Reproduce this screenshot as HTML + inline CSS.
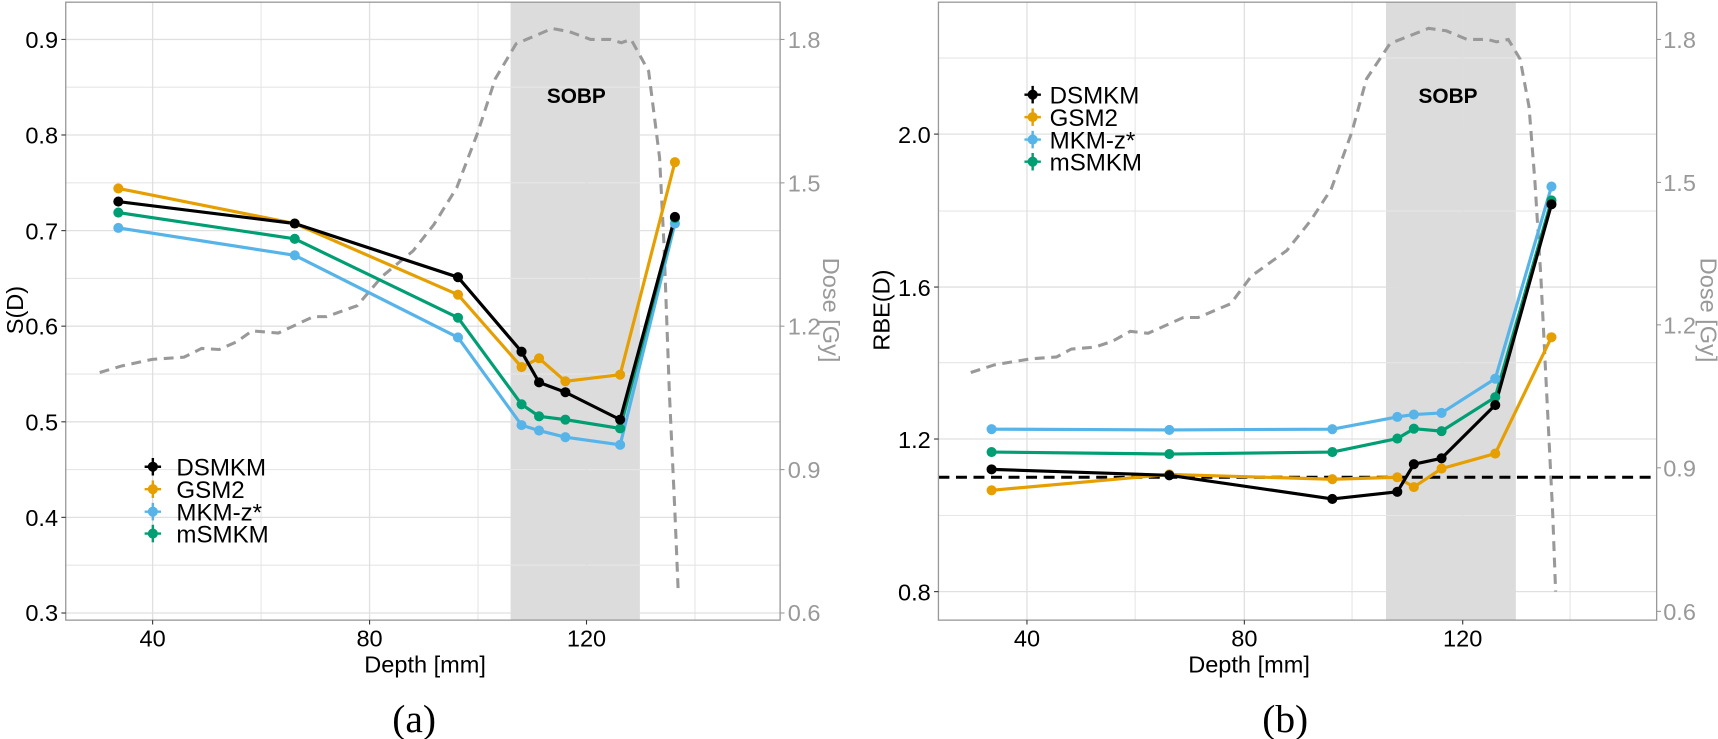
<!DOCTYPE html>
<html><head><meta charset="utf-8"><style>
html,body{margin:0;padding:0;background:#fff;}
svg{display:block;}
text{font-family:"Liberation Sans",sans-serif;}
</style></head><body>
<svg width="1718" height="739" viewBox="0 0 1568 674.5" preserveAspectRatio="none" xmlns="http://www.w3.org/2000/svg">
<rect width="1568" height="674.5" fill="#fff"/>
<!-- ========== PANEL A ========== -->
<g>
<rect x="466" y="2" width="118" height="564" fill="#dcdcdc"/>
<g stroke="#e6e6e6" stroke-width="1" fill="none">
<line x1="60" x2="712" y1="79.6" y2="79.6"/><line x1="60" x2="712" y1="166.9" y2="166.9"/>
<line x1="60" x2="712" y1="254.1" y2="254.1"/><line x1="60" x2="712" y1="341.4" y2="341.4"/>
<line x1="60" x2="712" y1="428.6" y2="428.6"/><line x1="60" x2="712" y1="515.9" y2="515.9"/>
<line x1="238.3" x2="238.3" y1="2" y2="566"/><line x1="436.3" x2="436.3" y1="2" y2="566"/><line x1="634.3" x2="634.3" y1="2" y2="566"/>
</g>
<g stroke="#dddddd" stroke-width="1.2" fill="none" opacity="0.9">
<line x1="60" x2="712" y1="36" y2="36"/><line x1="60" x2="712" y1="123.2" y2="123.2"/>
<line x1="60" x2="712" y1="210.5" y2="210.5"/><line x1="60" x2="712" y1="297.7" y2="297.7"/>
<line x1="60" x2="712" y1="385" y2="385"/><line x1="60" x2="712" y1="472.2" y2="472.2"/>
<line x1="60" x2="712" y1="559.5" y2="559.5"/>
<line x1="139.3" x2="139.3" y1="2" y2="566"/><line x1="337.3" x2="337.3" y1="2" y2="566"/><line x1="535.3" x2="535.3" y1="2" y2="566"/>
</g>
<text x="526" y="94" font-size="19" font-weight="bold" text-anchor="middle">SOBP</text>
<polyline fill="none" stroke="#999" stroke-width="2.8" stroke-dasharray="9,6" points="91,340 111,334 139,328 168,326 184,318 200,319 216,312 230,302 254,304 269,297 286,289 298,289 326,279 349,252 377,229 396,205 417,171 436,121 452,72 471,40 504,26 520,29 539,36 557,36 567,39 576,36 592,65 602,144 606,223 611,360 616,468 619,540"/>
<g fill="none" stroke-width="2.9" stroke-linejoin="round">
<polyline stroke="#56B4E9" points="108,208 269,233 418,308 476,388 492,393 516,399 566,406 616,204"/>
<polyline stroke="#009E73" points="108,194 269,218 418,290 476,369 492,380 516,383 566,391 616,199"/>
<polyline stroke="#E69F00" points="108,172 269,204 418,269 476,335 492,327 516,348 566,342 616,148"/>
<polyline stroke="#000" points="108,184 269,204 418,253 476,321 492,349 516,358 566,383 616,198"/>
</g>
<g fill="#56B4E9"><circle cx="108" cy="208" r="4.6"/><circle cx="269" cy="233" r="4.6"/><circle cx="418" cy="308" r="4.6"/><circle cx="476" cy="388" r="4.6"/><circle cx="492" cy="393" r="4.6"/><circle cx="516" cy="399" r="4.6"/><circle cx="566" cy="406" r="4.6"/><circle cx="616" cy="204" r="4.6"/></g>
<g fill="#009E73"><circle cx="108" cy="194" r="4.6"/><circle cx="269" cy="218" r="4.6"/><circle cx="418" cy="290" r="4.6"/><circle cx="476" cy="369" r="4.6"/><circle cx="492" cy="380" r="4.6"/><circle cx="516" cy="383" r="4.6"/><circle cx="566" cy="391" r="4.6"/><circle cx="616" cy="199" r="4.6"/></g>
<g fill="#E69F00"><circle cx="108" cy="172" r="4.6"/><circle cx="269" cy="204" r="4.6"/><circle cx="418" cy="269" r="4.6"/><circle cx="476" cy="335" r="4.6"/><circle cx="492" cy="327" r="4.6"/><circle cx="516" cy="348" r="4.6"/><circle cx="566" cy="342" r="4.6"/><circle cx="616" cy="148" r="4.6"/></g>
<g fill="#000"><circle cx="108" cy="184" r="4.6"/><circle cx="269" cy="204" r="4.6"/><circle cx="418" cy="253" r="4.6"/><circle cx="476" cy="321" r="4.6"/><circle cx="492" cy="349" r="4.6"/><circle cx="516" cy="358" r="4.6"/><circle cx="566" cy="383" r="4.6"/><circle cx="616" cy="198" r="4.6"/></g>
<rect x="60" y="2" width="652" height="564" fill="none" stroke="#999" stroke-width="1.2"/>
<!-- legend -->
<g stroke-width="2.2">
<line x1="132" x2="147" y1="426" y2="426" stroke="#000"/><line x1="139.5" x2="139.5" y1="418" y2="434" stroke="#000"/><circle cx="139.5" cy="426" r="4.6" fill="#000"/>
<line x1="132" x2="147" y1="446.5" y2="446.5" stroke="#E69F00"/><line x1="139.5" x2="139.5" y1="438.5" y2="454.5" stroke="#E69F00"/><circle cx="139.5" cy="446.5" r="4.6" fill="#E69F00"/>
<line x1="132" x2="147" y1="467" y2="467" stroke="#56B4E9"/><line x1="139.5" x2="139.5" y1="459" y2="475" stroke="#56B4E9"/><circle cx="139.5" cy="467" r="4.6" fill="#56B4E9"/>
<line x1="132" x2="147" y1="487" y2="487" stroke="#009E73"/><line x1="139.5" x2="139.5" y1="479" y2="495" stroke="#009E73"/><circle cx="139.5" cy="487" r="4.6" fill="#009E73"/>
</g>
<g font-size="22"><text x="161" y="434">DSMKM</text><text x="161" y="454.5">GSM2</text><text x="161" y="475">MKM-z*</text><text x="161" y="495">mSMKM</text></g>
<!-- axes ticks -->
<g stroke="#333" stroke-width="1"><line x1="56" x2="60" y1="36" y2="36"/><line x1="56" x2="60" y1="123.2" y2="123.2"/><line x1="56" x2="60" y1="210.5" y2="210.5"/><line x1="56" x2="60" y1="297.7" y2="297.7"/><line x1="56" x2="60" y1="385" y2="385"/><line x1="56" x2="60" y1="472.2" y2="472.2"/><line x1="56" x2="60" y1="559.5" y2="559.5"/>
<line x1="139.3" x2="139.3" y1="566" y2="570"/><line x1="337.3" x2="337.3" y1="566" y2="570"/><line x1="535.3" x2="535.3" y1="566" y2="570"/></g>
<g font-size="21.5" text-anchor="end"><text x="53" y="44">0.9</text><text x="53" y="131">0.8</text><text x="53" y="218.5">0.7</text><text x="53" y="305.5">0.6</text><text x="53" y="393">0.5</text><text x="53" y="480">0.4</text><text x="53" y="567">0.3</text></g>
<g font-size="21.5" text-anchor="middle"><text x="139.3" y="590">40</text><text x="337.3" y="590">80</text><text x="535.3" y="590">120</text></g>
<g stroke="#999" stroke-width="1"><line x1="712" x2="716" y1="36" y2="36"/><line x1="712" x2="716" y1="166.9" y2="166.9"/><line x1="712" x2="716" y1="297.7" y2="297.7"/><line x1="712" x2="716" y1="428.6" y2="428.6"/><line x1="712" x2="716" y1="559.5" y2="559.5"/></g>
<g font-size="21.5" fill="#999"><text x="719" y="44">1.8</text><text x="719" y="175">1.5</text><text x="719" y="305.5">1.2</text><text x="719" y="436.5">0.9</text><text x="719" y="567">0.6</text></g>
<text x="388" y="614" font-size="21.5" text-anchor="middle">Depth [mm]</text>
<text transform="translate(21,283) rotate(-90)" font-size="21.5" text-anchor="middle">S(D)</text>
<text transform="translate(751,283) rotate(90)" font-size="21.5" fill="#999" text-anchor="middle">Dose [Gy]</text>
<text x="378" y="668" font-size="36" text-anchor="middle" style="font-family:'Liberation Serif',serif">(a)</text>
</g>
<!-- ========== PANEL B ========== -->
<g>
<rect x="1265" y="2" width="118.5" height="564" fill="#dcdcdc"/>
<g stroke="#e6e6e6" stroke-width="1" fill="none">
<line x1="856.5" x2="1512" y1="53" y2="53"/><line x1="856.5" x2="1512" y1="192.6" y2="192.6"/>
<line x1="856.5" x2="1512" y1="331" y2="331"/><line x1="856.5" x2="1512" y1="470.5" y2="470.5"/>
<line x1="1036" x2="1036" y1="2" y2="566"/><line x1="1234" x2="1234" y1="2" y2="566"/><line x1="1433" x2="1433" y1="2" y2="566"/>
</g>
<g stroke="#dddddd" stroke-width="1.2" fill="none" opacity="0.9">
<line x1="856.5" x2="1512" y1="122.4" y2="122.4"/><line x1="856.5" x2="1512" y1="262" y2="262"/>
<line x1="856.5" x2="1512" y1="400.7" y2="400.7"/><line x1="856.5" x2="1512" y1="540" y2="540"/>
<line x1="937.3" x2="937.3" y1="2" y2="566"/><line x1="1135.7" x2="1135.7" y1="2" y2="566"/><line x1="1335" x2="1335" y1="2" y2="566"/>
</g>
<text x="1321.6" y="94" font-size="19" font-weight="bold" text-anchor="middle">SOBP</text>
<polyline fill="none" stroke="#999" stroke-width="2.8" stroke-dasharray="9,6" points="886,340 907.7,333 940,327.6 964.3,325.8 977.7,318.6 999.3,316.8 1015.5,311.4 1031.6,302.4 1047.8,304.2 1064,297 1080.1,289.8 1093.6,289.8 1123.3,277.2 1142.1,252 1174.5,228.6 1196,201.6 1214.9,172.8 1233.8,120.6 1247.2,72 1268.8,39.6 1303.8,25.9 1320,28.1 1338.9,36 1357.7,36 1365.8,38.2 1376.6,36 1387.4,54 1395.5,97.2 1400.9,165.6 1406.3,252 1411.7,360 1417.1,468 1419.8,540"/>
<line x1="856.5" x2="1512" y1="435.6" y2="435.6" stroke="#000" stroke-width="2.8" stroke-dasharray="10,6"/>
<g fill="none" stroke-width="2.9" stroke-linejoin="round">
<polyline stroke="#56B4E9" points="905,391.7 1067.2,392.4 1216,391.7 1275.3,380.5 1290.4,378.4 1315.7,376.9 1364.7,345.6 1416,170.3"/>
<polyline stroke="#009E73" points="905,412.6 1067.2,414.4 1216,412.6 1275.3,400.3 1290.4,391.3 1315.7,393.5 1364.7,362.5 1416,182.9"/>
<polyline stroke="#E69F00" points="905,447.5 1067.2,433 1216,437.4 1275.3,435.6 1290.4,444.6 1315.7,427.7 1364.7,414 1416,307.8"/>
<polyline stroke="#000" points="905,428.4 1067.2,433.8 1216,455.4 1275.3,448.9 1290.4,423.7 1315.7,418.3 1364.7,369.7 1416,186.5"/>
</g>
<g fill="#56B4E9"><circle cx="905" cy="391.7" r="4.6"/><circle cx="1067.2" cy="392.4" r="4.6"/><circle cx="1216" cy="391.7" r="4.6"/><circle cx="1275.3" cy="380.5" r="4.6"/><circle cx="1290.4" cy="378.4" r="4.6"/><circle cx="1315.7" cy="376.9" r="4.6"/><circle cx="1364.7" cy="345.6" r="4.6"/><circle cx="1416" cy="170.3" r="4.6"/></g>
<g fill="#009E73"><circle cx="905" cy="412.6" r="4.6"/><circle cx="1067.2" cy="414.4" r="4.6"/><circle cx="1216" cy="412.6" r="4.6"/><circle cx="1275.3" cy="400.3" r="4.6"/><circle cx="1290.4" cy="391.3" r="4.6"/><circle cx="1315.7" cy="393.5" r="4.6"/><circle cx="1364.7" cy="362.5" r="4.6"/><circle cx="1416" cy="182.9" r="4.6"/></g>
<g fill="#E69F00"><circle cx="905" cy="447.5" r="4.6"/><circle cx="1067.2" cy="433" r="4.6"/><circle cx="1216" cy="437.4" r="4.6"/><circle cx="1275.3" cy="435.6" r="4.6"/><circle cx="1290.4" cy="444.6" r="4.6"/><circle cx="1315.7" cy="427.7" r="4.6"/><circle cx="1364.7" cy="414" r="4.6"/><circle cx="1416" cy="307.8" r="4.6"/></g>
<g fill="#000"><circle cx="905" cy="428.4" r="4.6"/><circle cx="1067.2" cy="433.8" r="4.6"/><circle cx="1216" cy="455.4" r="4.6"/><circle cx="1275.3" cy="448.9" r="4.6"/><circle cx="1290.4" cy="423.7" r="4.6"/><circle cx="1315.7" cy="418.3" r="4.6"/><circle cx="1364.7" cy="369.7" r="4.6"/><circle cx="1416" cy="186.5" r="4.6"/></g>
<rect x="856.5" y="2" width="655.5" height="564" fill="none" stroke="#999" stroke-width="1.2"/>
<g stroke-width="2.2">
<line x1="935" x2="950" y1="86.4" y2="86.4" stroke="#000"/><line x1="942.5" x2="942.5" y1="78.4" y2="94.4" stroke="#000"/><circle cx="942.5" cy="86.4" r="4.6" fill="#000"/>
<line x1="935" x2="950" y1="106.9" y2="106.9" stroke="#E69F00"/><line x1="942.5" x2="942.5" y1="98.9" y2="114.9" stroke="#E69F00"/><circle cx="942.5" cy="106.9" r="4.6" fill="#E69F00"/>
<line x1="935" x2="950" y1="127.4" y2="127.4" stroke="#56B4E9"/><line x1="942.5" x2="942.5" y1="119.4" y2="135.4" stroke="#56B4E9"/><circle cx="942.5" cy="127.4" r="4.6" fill="#56B4E9"/>
<line x1="935" x2="950" y1="147.6" y2="147.6" stroke="#009E73"/><line x1="942.5" x2="942.5" y1="139.6" y2="155.6" stroke="#009E73"/><circle cx="942.5" cy="147.6" r="4.6" fill="#009E73"/>
</g>
<g font-size="22"><text x="958" y="94.4">DSMKM</text><text x="958" y="114.9">GSM2</text><text x="958" y="135.4">MKM-z*</text><text x="958" y="155.6">mSMKM</text></g>
<g stroke="#333" stroke-width="1"><line x1="852.5" x2="856.5" y1="122.4" y2="122.4"/><line x1="852.5" x2="856.5" y1="262" y2="262"/><line x1="852.5" x2="856.5" y1="400.7" y2="400.7"/><line x1="852.5" x2="856.5" y1="540" y2="540"/>
<line x1="937.3" x2="937.3" y1="566" y2="570"/><line x1="1135.7" x2="1135.7" y1="566" y2="570"/><line x1="1335" x2="1335" y1="566" y2="570"/></g>
<g font-size="21.5" text-anchor="end"><text x="849.5" y="130.4">2.0</text><text x="849.5" y="270">1.6</text><text x="849.5" y="408.7">1.2</text><text x="849.5" y="548">0.8</text></g>
<g font-size="21.5" text-anchor="middle"><text x="937.3" y="590">40</text><text x="1135.7" y="590">80</text><text x="1335" y="590">120</text></g>
<g stroke="#999" stroke-width="1"><line x1="1512" x2="1516" y1="36" y2="36"/><line x1="1512" x2="1516" y1="166.5" y2="166.5"/><line x1="1512" x2="1516" y1="296.5" y2="296.5"/><line x1="1512" x2="1516" y1="427" y2="427"/><line x1="1512" x2="1516" y1="558" y2="558"/></g>
<g font-size="21.5" fill="#999"><text x="1518" y="44">1.8</text><text x="1518" y="174.5">1.5</text><text x="1518" y="304.5">1.2</text><text x="1518" y="435">0.9</text><text x="1518" y="566">0.6</text></g>
<text x="1140" y="614" font-size="21.5" text-anchor="middle">Depth [mm]</text>
<text transform="translate(812,283) rotate(-90)" font-size="21.5" text-anchor="middle">RBE(D)</text>
<text transform="translate(1552,283) rotate(90)" font-size="21.5" fill="#999" text-anchor="middle">Dose [Gy]</text>
<text x="1173" y="668" font-size="36" text-anchor="middle" style="font-family:'Liberation Serif',serif">(b)</text>
</g>
</svg>
</body></html>
